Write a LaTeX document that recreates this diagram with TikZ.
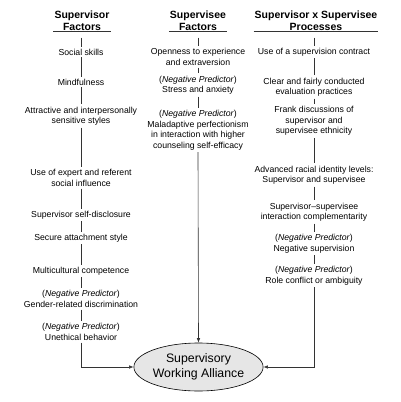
\documentclass[tikz,border=0pt]{standalone}
\usepackage{fontspec}
\setmainfont{Liberation Sans}
\usetikzlibrary{arrows.meta,positioning,shapes.geometric}
\definecolor{linegray}{HTML}{333333}
\definecolor{alliancefill}{HTML}{E6E6E6}
\newcommand{\negpred}{(\textit{Negative Predictor})}
\tikzset{
  factorhead/.style={
    font=\fontsize{10.5}{12}\selectfont\bfseries, align=center,
    inner sep=1pt
  },
  factorbox/.style={
    font=\fontsize{8.7}{10.5}\selectfont, align=center,
    inner sep=2pt
  },
  link/.style={draw=linegray, line width=0.6pt},
  feed/.style={link, -{Latex[length=4.5pt,width=3.5pt]}},
  alliance/.style={ellipse, draw=black, fill=alliancefill, line width=0.6pt,
    minimum width=111pt, minimum height=48pt, inner sep=0pt,
    font=\fontsize{12.3}{14.5}\selectfont, align=center},
}

\begin{document}
\begin{tikzpicture}[x=1pt, y=-1pt]
  \useasboundingbox (0,0) rectangle (400,402);
  % column heads
  \node[factorhead] (hl) at (82,20.5)  {Supervisor\\Factors};
  \node[factorhead] (hm) at (198,20.5) {Supervisee\\Factors};
  \node[factorhead] (hr) at (316,20.5) {Supervisor x Supervisee\\Processes};
  \foreach \h in {hl,hm,hr} { \draw[link] (\h.south west) -- (\h.south east); }
  % supervisor factors
  \node[factorbox] (l1) at (81,52)  {Social skills};
  \node[factorbox] (l2) at (81,82)  {Mindfulness};
  \node[factorbox] (l3) at (81,116) {Attractive and interpersonally\\sensitive styles};
  \node[factorbox] (l4) at (81,178) {Use of expert and referent\\social influence};
  \node[factorbox] (l5) at (81,215) {Supervisor self-disclosure};
  \node[factorbox] (l6) at (81,238) {Secure attachment style};
  \node[factorbox] (l7) at (81,271) {Multicultural competence};
  \node[factorbox] (l8) at (81,299) {\negpred\\Gender-related discrimination};
  \node[factorbox] (l9) at (81,332) {\negpred\\Unethical behavior};
  % supervisee factors
  \node[factorbox] (m1) at (198,57)  {Openness to experience\\and extraversion};
  \node[factorbox] (m2) at (198,85)  {\negpred\\Stress and anxiety};
  \node[factorbox] (m3) at (198,130) {\negpred\\Maladaptive perfectionism\\in interaction with higher\\counseling self-efficacy};
  % supervisor x supervisee processes
  \node[factorbox] (r1) at (314,52)    {Use of a supervision contract};
  \node[factorbox] (r2) at (314,87)    {Clear and fairly conducted\\evaluation practices};
  \node[factorbox] (r3) at (314,121)   {Frank discussions of\\supervisor and\\supervisee ethnicity};
  \node[factorbox] (r4) at (314,175)   {Advanced racial identity levels:\\Supervisor and supervisee};
  \node[factorbox] (r5) at (314,212)   {Supervisor--supervisee\\interaction complementarity};
  \node[factorbox] (r6) at (314,243.5) {\negpred\\Negative supervision};
  \node[factorbox] (r7) at (314,275.5) {\negpred\\Role conflict or ambiguity};
  % outcome
  \node[alliance] (swa) at (198.5,367) {Supervisory\\Working Alliance};
  % chains
  \draw[link, shorten <=6pt] (hl.south -| l1) -- (l1);
  \draw[link, shorten <=6pt] (hm.south -| m1) -- (m1);
  \draw[link, shorten <=6pt] (hr.south -| r1) -- (r1);
  \foreach \a/\b in {l1/l2,l2/l3,l3/l4,l4/l5,l5/l6,l6/l7,l7/l8,l8/l9,
                     m1/m2,m2/m3,
                     r1/r2,r2/r3,r3/r4,r4/r5,r5/r6,r6/r7}
    { \draw[link] (\a) -- (\b); }
  \draw[feed] (l9.south) |- (swa.west);
  \draw[feed] (m3.south) -- (swa.north);
  \draw[feed] (r7.south) |- (swa.east);
\end{tikzpicture}
\end{document}
